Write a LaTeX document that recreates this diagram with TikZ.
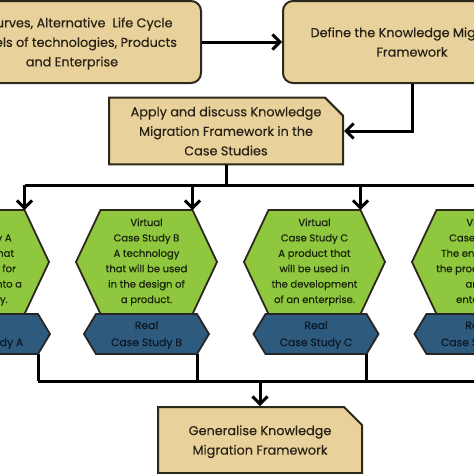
\documentclass[tikz,border=0pt]{standalone}
\usepackage{fontspec}
\setmainfont{Poppins}[FakeBold=0.35]
\usetikzlibrary{arrows.meta,shapes.misc}
\definecolor{tan}{RGB}{233,209,155}
\definecolor{edge}{RGB}{45,40,28}
\definecolor{grn}{RGB}{143,199,62}
\definecolor{blu}{RGB}{46,90,125}
\definecolor{txt}{RGB}{40,34,22}
\definecolor{gtxt}{RGB}{25,35,10}
\definecolor{btxt}{RGB}{12,25,38}
\tikzset{
  tanbox/.style={draw=edge,fill=tan,line width=2pt,rounded corners=10pt,
    text=txt,align=center,font=\fontsize{12.8}{19.5}\selectfont,inner sep=0pt,text depth=0pt},
  snipbox/.style={chamfered rectangle,chamfered rectangle corners=north east,
    chamfered rectangle xsep=9pt,chamfered rectangle ysep=9pt,
    draw=edge,fill=tan,line width=2pt,text depth=0pt,
    text=txt,align=center,font=\fontsize{12.8}{19.5}\selectfont,inner sep=0pt},
  hexshape/.style={draw=edge,fill=grn,line width=1.8pt,line join=miter},
  realshape/.style={draw=black!85,fill=blu,line width=1.8pt},
  hextext/.style={align=center,text=gtxt,font=\fontsize{10}{15.4}\selectfont,inner sep=0pt},
  realtext/.style={align=center,text=btxt,font=\fontsize{10.8}{17}\selectfont,inner sep=0pt},
  conn/.style={line width=3pt,draw=black},
  arr/.style={conn,-{Straight Barb[length=7.5pt,width=15pt]}},
}
\newcommand{\hexa}[2]{%
  \draw[hexshape] (#2-46,210) -- (#2+46,210) -- (#2+70.5,262) -- (#2+46,314)
     -- (#2-46,314) -- (#2-70.5,262) -- cycle;
  \coordinate (#1tr) at (#2+46,210);}
\newcommand{\realsh}[2]{%
  \draw[realshape] (#2-50.5,314) -- (#2+50.5,314) -- (#2+62.5,334) -- (#2+50.5,354)
     -- (#2-50.5,354) -- (#2-62.5,334) -- cycle;
  \coordinate (#1br) at (#2+50.5,354);}
\begin{document}
\begin{tikzpicture}[x=1pt,y=-1pt]
\useasboundingbox (0,0) rectangle (474,474);
\clip (0,0) rectangle (474,474);
\fill[white] (0,0) rectangle (474,474);
% top boxes
\node[tanbox,minimum width=258pt,minimum height=82pt] (tl) at (72,42)
  {S-Curves, Alternative\ \ Life Cycle\\Models of technologies, Products\\and Enterprise};
\node[tanbox,minimum width=258pt,minimum height=82pt] (tr) at (412,42)
  {Define the Knowledge Migration\\Framework};
\node[snipbox,minimum width=234pt,minimum height=66pt] (apply) at (226,131)
  {Apply and discuss Knowledge\\Migration Framework in the\\Case Studies};
\node[snipbox,minimum width=204pt,minimum height=66pt] (gen) at (260,440)
  {Generalise Knowledge\\Migration Framework};
% hexagons
\hexa{A}{-21.5}\hexa{B}{146.5}\hexa{C}{314.5}\hexa{D}{482.5}
\realsh{A}{-12.5}\realsh{B}{146.5}\realsh{C}{316}\realsh{D}{477}
\node[hextext] (vA) at (-21.5,262) {Virtual\\Case Study A\\A science that\\will be used for\\developing into a\\technology.};
\node[hextext] (vB) at (146.5,262) {Virtual\\Case Study B\\A technology\\that will be used\\in the design of\\a product.};
\node[hextext] (vC) at (314.5,262) {Virtual\\Case Study C\\A product that\\will be used in\\the development\\of an enterprise.};
\node[hextext] (vD) at (482.5,262) {Virtual\\Case Study D\\The enterprise in\\the product will be\\and its\\enterprise.};
\node[realtext] (rA) at (-12.5,335) {Real\\Case Study A};
\node[realtext] (rB) at (146.5,335) {Real\\Case Study B};
\node[realtext] (rC) at (316,335) {Real\\Case Study C};
\node[realtext] (rD) at (477,335) {Real\\Case Study D};
% connectors
\draw[arr] (tl.east) -- (tr.west);
\draw[arr] (tr.south) |- (apply.east);
\coordinate (bus) at (226,185);
\draw[conn] (apply.south) -- (bus);
\draw[conn] (Atr |- bus) -- (Dtr |- bus);
\foreach \n in {A,B,C,D} {\draw[arr] (\n tr |- bus) -- (\n tr);}
\coordinate (bus2) at (260,381);
\foreach \n in {A,B,C,D} {\draw[conn] (\n br) -- (\n br |- bus2);}
\draw[conn] (Abr |- bus2) -- (Dbr |- bus2);
\draw[arr] (bus2) -- (gen.north);
\end{tikzpicture}
\end{document}
